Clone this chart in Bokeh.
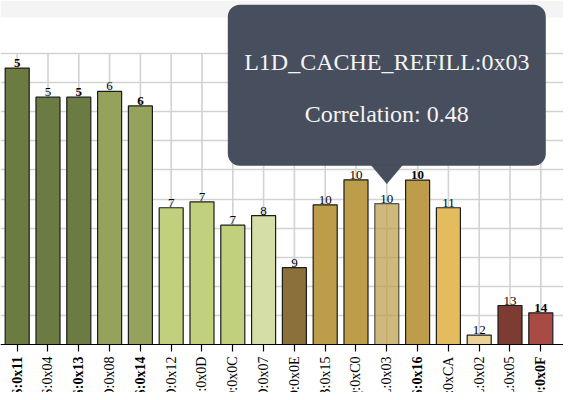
import math
from bokeh.plotting import figure
from bokeh.models import Range1d, LinearAxis, FixedTicker, Grid, ColumnDataSource
from bokeh.embed import file_html
from bokeh.resources import INLINE
from bokeh.core.properties import value

# ---------------- data ----------------
event_names = [
    "CPU_CYCLES", "L1D_CACHE_ACCESS", "MEM_ACCESS", "INST_RETIRED", "L1I_CACHE_ACCESS",
    "BR_PRED", "BR_IMMED_RETIRED", "PC_WRITE_RETIRED", "ST_RETIRED", "BR_RETURN_RETIRED",
    "L1D_CACHE_WB", "EXT_MEM_REQ", "L1D_CACHE_REFILL", "L2D_CACHE_ACCESS", "EXT_SNOOP",
    "L1I_TLB_REFILL", "L1D_TLB_REFILL", "UNALIGNED_LDST_RETIRED",
]
event_codes = [
    "0x11", "0x04", "0x13", "0x08", "0x14", "0x12", "0x0D", "0x0C", "0x07",
    "0x0E", "0x15", "0xC0", "0x03", "0x16", "0xCA", "0x02", "0x05", "0x0F",
]
correlations = [
    0.95, 0.85, 0.85, 0.87, 0.82, 0.47, 0.49, 0.41, 0.443,
    0.264, 0.48, 0.566, 0.484, 0.565, 0.47, 0.032, 0.134, 0.109,
]
groups = [5, 5, 5, 6, 6, 7, 7, 7, 8, 9, 10, 10, 10, 10, 11, 12, 13, 14]
is_bold = [True, False, True, False, True, False, False, False, False,
           False, False, False, False, True, False, False, False, True]
hovered_code = "0x03"
grid_y_ticks = [0.1, 0.2, 0.3, 0.4, 0.5, 0.6, 0.7, 0.8, 0.9, 1.0]

group_palette = {
    5: "#6b7b41", 6: "#95a25c", 7: "#c0d07c", 8: "#d5dea6", 9: "#8c7039",
    10: "#bd9d4a", 11: "#e4bc5e", 12: "#ebd195", 13: "#7d3b33", 14: "#a84b45",
}

# ---------------- layout constants ----------------
W, H = 563, 392
X0, X1 = -0.542, 17.737
Y0, Y1 = -0.1649, 1.1821
PX_X = W / (X1 - X0)
PX_Y = H / (Y1 - Y0)
SERIF = "Liberation Serif"

n = len(event_codes)
idx = list(range(n))
labels = [f"{nm}:{cd}" for nm, cd in zip(event_names, event_codes)]
hi = event_codes.index(hovered_code)

src = ColumnDataSource(dict(
    x=idx,
    corr=correlations,
    color=[group_palette[g] for g in groups],
    alpha=[0.72 if i == hi else 1.0 for i in idx],
    grp=[str(g) for g in groups],
    style=["bold" if b else "normal" for b in is_bold],
))

p = figure(width=W, height=H, x_range=Range1d(X0, X1), y_range=Range1d(Y0, Y1),
           output_backend="svg", toolbar_location=None, min_border=0,
           x_axis_type=None, y_axis_type=None)
p.outline_line_color = None
p.background_fill_color = "white"
p.border_fill_color = "white"

# top page band
p.quad(left=X0, right=X1, top=Y1, bottom=Y1 - 17 / PX_Y,
       fill_color="#f4f4f4", line_color=None)

# grid
p.add_layout(Grid(dimension=1, ticker=FixedTicker(ticks=grid_y_ticks),
                  grid_line_color="#d2d2d2", grid_line_width=1.6))
p.segment(x0=idx, y0=[0] * n, x1=idx, y1=[max(grid_y_ticks)] * n,
          line_color="#d2d2d2", line_width=1.6, level="underlay")

# bars
p.vbar(x="x", top="corr", width=0.78, source=src, fill_color="color",
       fill_alpha="alpha", line_color="#1c1c1c", line_alpha="alpha", line_width=1.2)

# group numbers
p.text(x="x", y="corr", text="grp", source=src, text_font=value(SERIF),
       text_font_size="13px", text_font_style="style", text_align="center",
       text_baseline="alphabetic", y_offset=-5, text_color="#000000")

# x axes (normal + bold labels)
normal_idx = [i for i in idx if not is_bold[i]]
bold_idx = [i for i in idx if is_bold[i]]
for ticks, style, line_col in ((normal_idx, "normal", "black"), (bold_idx, "bold", None)):
    ax = LinearAxis(ticker=FixedTicker(ticks=ticks), fixed_location=0,
                    major_label_overrides={i: labels[i] for i in ticks},
                    major_label_orientation=math.pi / 2,
                    major_label_text_font=SERIF, major_label_text_font_size="14px",
                    major_label_text_font_style=style, major_label_text_color="black",
                    major_label_standoff=5, major_tick_out=7, major_tick_in=0,
                    minor_tick_out=0, minor_tick_in=0,
                    axis_line_color=line_col, axis_line_width=1.2,
                    major_tick_line_color="black", major_tick_line_width=1.2)
    p.add_layout(ax, "below")

# tooltip for hovered bar
tx, ty = hi, correlations[hi]
tip_color = "#474e5e"
p.quad(left=tx - 159 / PX_X, right=tx + 159 / PX_X,
       bottom=ty + 38 / PX_Y, top=ty + 199 / PX_Y,
       fill_color=tip_color, line_color=None, border_radius=12)
p.patch(x=[tx - 16 / PX_X, tx + 16 / PX_X, tx],
        y=[ty + 39 / PX_Y, ty + 39 / PX_Y, ty + 20 / PX_Y],
        fill_color=tip_color, line_color=tip_color, line_width=0.5)
tip_src = ColumnDataSource(dict(
    x=[tx, tx], y=[ty, ty],
    text=[labels[hi], f"Correlation: {correlations[hi]:.2f}"],
    yo=[-142, -90],
))
p.text(x="x", y="y", text="text", y_offset="yo", source=tip_src,
       text_font=value(SERIF), text_font_size="24px", text_color="#f4f4f4",
       text_align="center", text_baseline="middle")

open("out.html", "w").write(file_html(p, INLINE))
